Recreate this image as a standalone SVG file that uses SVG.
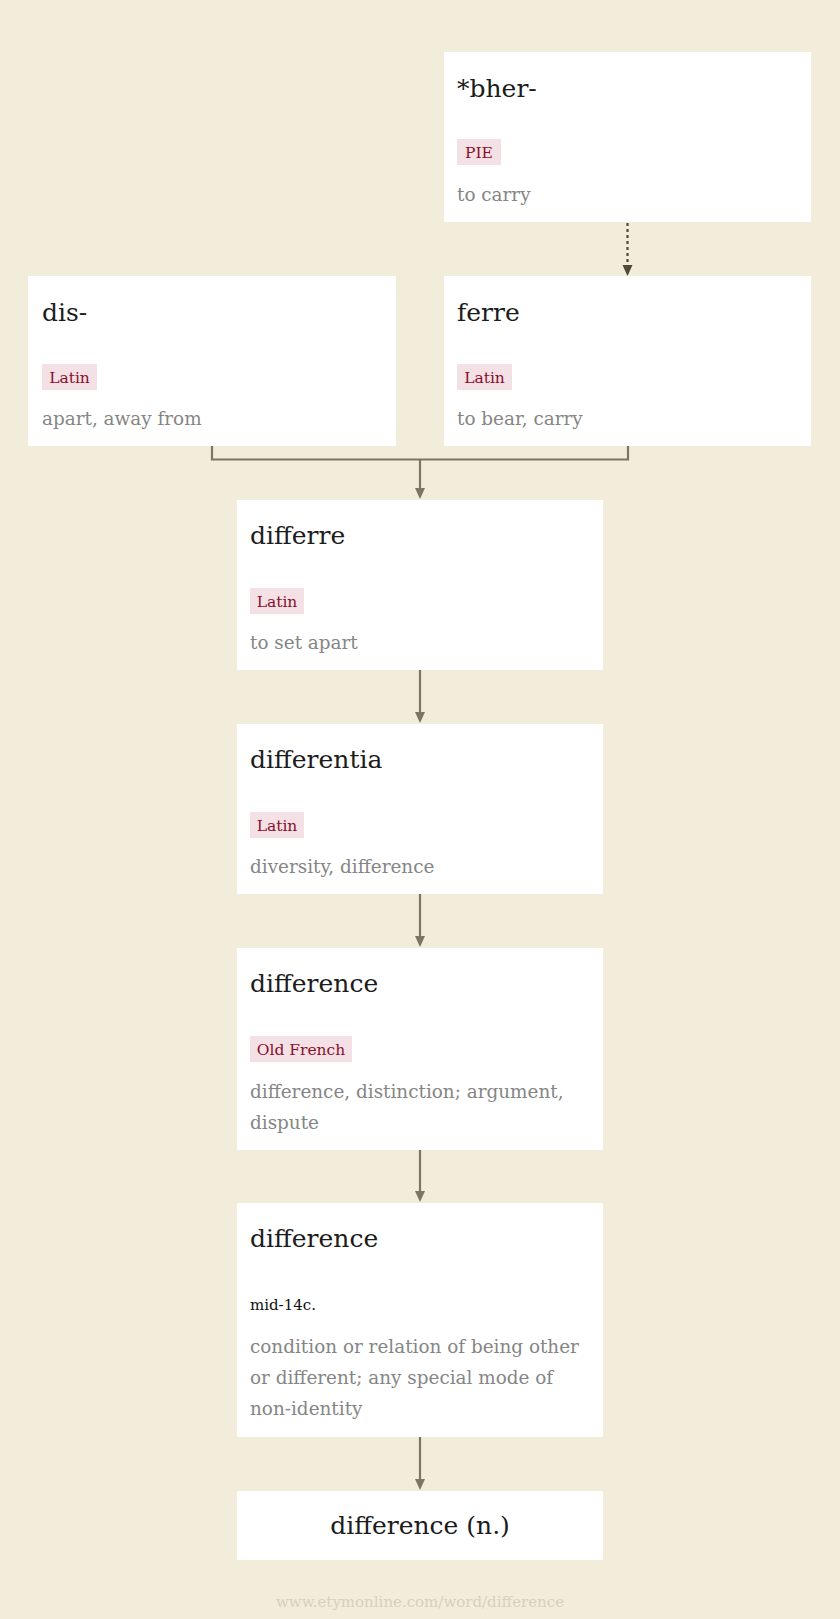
<svg xmlns="http://www.w3.org/2000/svg" width="840" height="1619" viewBox="0 0 840 1619">
<defs>
<style>
.box{fill:#ffffff}
.title{font-family:"DejaVu Serif","Liberation Serif",serif;font-size:25px;fill:#1c1c1c}
.tagbg{fill:#f3e1e5}
.tag{font-family:"DejaVu Serif","Liberation Serif",serif;font-size:15.5px;fill:#8b0d2c;text-anchor:middle}
.desc{font-family:"DejaVu Serif","Liberation Serif",serif;font-size:18.4px;fill:#858585}
.date{font-family:"DejaVu Serif","Liberation Serif",serif;font-size:15px;fill:#111111}
.conn{fill:none;stroke:#7b7563;stroke-width:2.2}
.dot{fill:none;stroke:#4f4a3b;stroke-width:2.2;stroke-dasharray:3 3}
.foot{font-family:"DejaVu Serif","Liberation Serif",serif;font-size:15px;fill:#d6d0be;text-anchor:middle}
</style>
</defs>
<rect x="0" y="0" width="840" height="1619" fill="#f2ecdb"/>

<g id="connectors">
<path class="dot" d="M627.5,223 V266"/>
<path d="M622.5,265 L632.5,265 L627.5,276 z" fill="#4f4a3b"/>
<path class="conn" d="M212,446 V459.5 H628 V446"/>
<path class="conn" d="M420,459.5 V489"/>
<path d="M415,488 L425,488 L420,499 z" fill="#7b7563"/>
<path class="conn" d="M420,670 V713"/>
<path d="M415,712 L425,712 L420,723 z" fill="#7b7563"/>
<path class="conn" d="M420,894 V937"/>
<path d="M415,936 L425,936 L420,947 z" fill="#7b7563"/>
<path class="conn" d="M420,1150 V1192"/>
<path d="M415,1191 L425,1191 L420,1202 z" fill="#7b7563"/>
<path class="conn" d="M420,1437 V1480"/>
<path d="M415,1479 L425,1479 L420,1490 z" fill="#7b7563"/>
</g>

<g id="node-bher">
<rect class="box" x="444" y="52" width="367" height="170"/>
<text class="title" x="457" y="97">*bher-</text>
<rect class="tagbg" x="457" y="139" width="44" height="26"/>
<text class="tag" x="479" y="158">PIE</text>
<text class="desc" x="457" y="201">to carry</text>
</g>

<g id="node-dis">
<rect class="box" x="28" y="276" width="368" height="170"/>
<text class="title" x="42" y="321">dis-</text>
<rect class="tagbg" x="42" y="364" width="55" height="26"/>
<text class="tag" x="69.5" y="383">Latin</text>
<text class="desc" x="42" y="425">apart, away from</text>
</g>

<g id="node-ferre">
<rect class="box" x="444" y="276" width="367" height="170"/>
<text class="title" x="457" y="321">ferre</text>
<rect class="tagbg" x="457" y="364" width="55" height="26"/>
<text class="tag" x="484.5" y="383">Latin</text>
<text class="desc" x="457" y="425">to bear, carry</text>
</g>

<g id="node-differre">
<rect class="box" x="237" y="500" width="366" height="170"/>
<text class="title" x="250" y="544">differre</text>
<rect class="tagbg" x="250" y="588" width="54" height="26"/>
<text class="tag" x="277" y="607">Latin</text>
<text class="desc" x="250" y="649">to set apart</text>
</g>

<g id="node-differentia">
<rect class="box" x="237" y="724" width="366" height="170"/>
<text class="title" x="250" y="768">differentia</text>
<rect class="tagbg" x="250" y="812" width="54" height="26"/>
<text class="tag" x="277" y="831">Latin</text>
<text class="desc" x="250" y="873">diversity, difference</text>
</g>

<g id="node-difference-of">
<rect class="box" x="237" y="948" width="366" height="202"/>
<text class="title" x="250" y="992">difference</text>
<rect class="tagbg" x="250" y="1036" width="102" height="26"/>
<text class="tag" x="301" y="1055">Old French</text>
<text class="desc" x="250" y="1098">difference, distinction; argument,</text>
<text class="desc" x="250" y="1129">dispute</text>
</g>

<g id="node-difference-me">
<rect class="box" x="237" y="1203" width="366" height="234"/>
<text class="title" x="250" y="1247">difference</text>
<text class="date" x="250" y="1310">mid-14c.</text>
<text class="desc" x="250" y="1353">condition or relation of being other</text>
<text class="desc" x="250" y="1384">or different; any special mode of</text>
<text class="desc" x="250" y="1415">non-identity</text>
</g>

<g id="node-final">
<rect class="box" x="237" y="1491" width="366" height="69"/>
<text class="title" x="420" y="1534" text-anchor="middle">difference (n.)</text>
</g>

<text class="foot" x="420" y="1607">www.etymonline.com/word/difference</text>
</svg>
